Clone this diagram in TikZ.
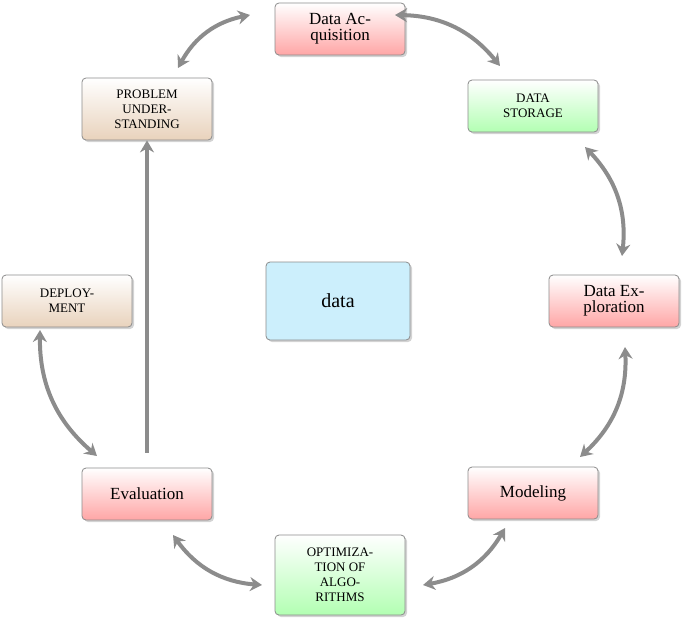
\documentclass[tikz,border=0pt]{standalone}
\usepackage{fontspec}
\setmainfont{Liberation Serif}
\usetikzlibrary{arrows.meta,shadows}
\begin{document}
\begin{tikzpicture}[x=1pt,y=-1pt,
 box/.style={draw=black!45,line width=0.8pt,rounded corners=4pt,minimum width=130pt,minimum height=52pt,align=center,drop shadow={shadow xshift=2pt,shadow yshift=-2pt,opacity=0.35}},
 redb/.style={box,top color=white,bottom color=red!35,font=\fontsize{17}{16}\selectfont},
 greenb/.style={box,top color=white,bottom color=green!30,font=\fontsize{13}{15}\selectfont},
 tanb/.style={box,top color=white,bottom color=brown!35,font=\fontsize{13}{15}\selectfont},
 conn/.style={draw=black!45,line width=4pt,{Stealth[length=12pt,width=14pt]}-{Stealth[length=12pt,width=14pt]}}]
\useasboundingbox (0,0) rectangle (685,619);
\node[redb] (acq) at (340,29) {Data Ac-\\quisition};
\node[greenb] (sto) at (533,106) {DATA\\STORAGE};
\node[redb] (exp) at (614,301) {Data Ex-\\ploration};
\node[redb] (mod) at (533,493) {Modeling};
\node[greenb,minimum height=80pt] (opt) at (340,575) {OPTIMIZA-\\TION OF\\ALGO-\\RITHMS};
\node[redb] (eva) at (147,494) {Evaluation};
\node[tanb] (dep) at (67,301) {DEPLOY-\\MENT};
\node[tanb,minimum height=62pt] (pro) at (147,109) {PROBLEM\\UNDER-\\STANDING};
\node[box,fill=cyan!20,draw=black!45,minimum width=144pt,minimum height=78pt,font=\fontsize{20}{22}\selectfont] (data) at (338,301) {data};
\coordinate (a1) at (250,15); \coordinate (a2) at (178,68);
\coordinate (b1) at (395,15); \coordinate (b2) at (500,66);
\coordinate (c1) at (585,147); \coordinate (c2) at (622,256);
\coordinate (d1) at (625,347); \coordinate (d2) at (580,457);
\coordinate (e1) at (505,528); \coordinate (e2) at (423,585);
\coordinate (f1) at (262,585); \coordinate (f2) at (173,535);
\coordinate (g1) at (97,456); \coordinate (g2) at (40,330);
\draw[conn] (a1) to[bend right=25] (a2);
\draw[conn] (b1) to[bend left=25] (b2);
\draw[conn] (c1) to[bend left=25] (c2);
\draw[conn] (d1) to[bend left=25] (d2);
\draw[conn] (e1) to[bend left=25] (e2);
\draw[conn] (f1) to[bend left=25] (f2);
\draw[conn] (g1) to[bend left=25] (g2);
\draw[draw=black!45,line width=4pt,-{Stealth[length=12pt,width=14pt]}] (eva.north) ++(0,-15) -- (pro.south);
\end{tikzpicture}
\end{document}
